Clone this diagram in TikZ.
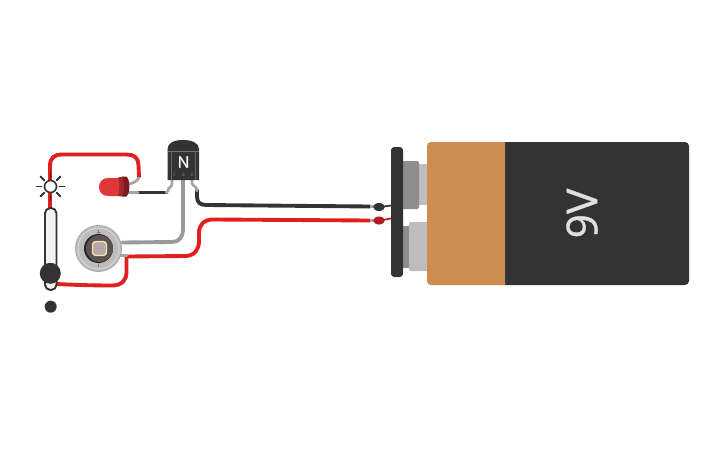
\documentclass[tikz,border=0pt]{standalone}
\usepackage{fontspec}
\setsansfont{Open Sans}
\usetikzlibrary{arrows,shapes,positioning}
\usetikzlibrary{calc}
\definecolor{darkbody}{HTML}{333333}
\definecolor{wirered}{HTML}{E0201F}
\definecolor{plugred}{HTML}{B01C1C}
\definecolor{leadgray}{HTML}{A3A6A6}
\definecolor{wiregray}{HTML}{979B9B}
\definecolor{coppertop}{HTML}{CE8C52}
\definecolor{termdark}{HTML}{8E8E8E}
\definecolor{termlight}{HTML}{BDBDBD}
\tikzset{
  redwire/.style={draw=wirered,line width=2.9pt,line cap=round},
  blackwire/.style={draw=darkbody,line width=2.9pt,line cap=round},
  graywire/.style={draw=wiregray,line width=2.9pt,line cap=round},
  leadwire/.style={draw=leadgray,line width=2pt,line cap=round},
  ray/.style={draw=darkbody,line width=1.4pt,line cap=round},
  pinmark/.style={text=gray,inner sep=0pt,font=\sffamily\fontsize{3.5}{4}\selectfont},
}
\begin{document}
\begin{tikzpicture}[x=0.75pt,y=0.75pt,yscale=-1,xscale=1]
\useasboundingbox (0,0) rectangle (725,453);

%Wire from bulb to LED
\draw [redwire] (50,208) -- (50,166) .. controls (50,158) and (54,154.5) .. (62,154.5) -- (127,154.5) .. controls (134,154.5) and (138.5,158) .. (138.5,165) -- (139,177);
%Wire from sensor to switch
\draw [redwire] (57,284) .. controls (75,285) and (95,285.5) .. (112,285.5) .. controls (122,285.5) and (126.5,280) .. (126.5,272) -- (126.5,256);
%Wire from sensor to battery
\draw [redwire] (127,256.5) -- (186,256) .. controls (195,255.5) and (199,249) .. (199,241) -- (199,233) .. controls (199,225) and (204,219.5) .. (213,219.5) -- (370,220.5);
%Wire from transistor to battery
\draw [blackwire] (197,190) -- (197,197) .. controls (197,202) and (200,205) .. (206,205) -- (370,206.5);
%Wire from transistor to sensor
\draw [graywire] (122,242.5) -- (172,242) .. controls (179,242) and (183,237) .. (183,230) -- (183,180);
%Wire from LED to transistor
\draw [blackwire] (137,192.5) -- (166,192.5);

%Leads of the transistor
\draw [leadwire] (172,179) -- (172,184) .. controls (172,187) and (168,187) .. (168,191) -- (166,192.5);
\draw [leadwire] (192,179) -- (192,183) .. controls (192,186) and (197,186) .. (197,191);
%Leads of the LED
\draw [leadwire] (127,192.5) -- (138,192.5);
\draw [leadwire] (127,184) .. controls (132,184) and (136,182) .. (139,178);

%Shape: Transistor
\draw [fill=darkbody,draw=none] (167.5,180) -- (167.5,149) .. controls (167.5,143) and (174,140) .. (183,140) .. controls (192,140) and (199,143) .. (199,149) -- (199,180) -- cycle;
\draw [draw=black!55,line width=0.5pt] (167.5,151) -- (199,151);
\draw [draw=black!60,line width=0.4pt] (171,151) -- (171,180) (195.5,151) -- (195.5,180);
\node [text=white,font=\sffamily\fontsize{12}{12}\selectfont\addfontfeatures{FakeBold=0.6}] (letterN) at (183.5,162) {N};
\node [pinmark] (pinC) at (174.5,174.5) {C};
\node [pinmark] (pinB) at (183.5,174.5) {B};
\node [pinmark] (pinE) at (192.5,174.5) {E};

%Shape: LED
\draw [fill={rgb, 255:red, 222; green, 56; blue, 56 },draw=none] (122,178) -- (108,178) .. controls (96,178) and (96,196) .. (108,196) -- (122,196) -- cycle;
\draw [fill={rgb, 255:red, 160; green, 40; blue, 44 },draw=none] (118,177.5) -- (123,176.5) .. controls (126,181) and (126,192) .. (123,196.5) -- (118,196) .. controls (120,191) and (120,182) .. (118,177.5) -- cycle;
\draw [fill={rgb, 255:red, 122; green, 28; blue, 28 },draw=none] (122,176.5) -- (126,176.5) .. controls (130.5,178) and (130.5,195) .. (126,196.5) -- (122,196.5) .. controls (125,192) and (125,181) .. (122,176.5) -- cycle;

%Sensor stubs
\draw [leadwire] (119,255.5) -- (127,255.5);
\draw [leadwire] (119,242.5) -- (124,242.5);
%Shape: Sensor
\draw [fill=termlight,draw=leadgray,line width=0.6pt] (98.5,248.5) circle (23);
\draw [draw=gray!25,line width=0.5pt] (98.5,248.5) circle (20.5);
\draw [fill=black!85,draw=none] (98.5,248.5) circle (14.5);
\draw [fill={rgb, 255:red, 92; green, 82; blue, 78 },draw=none] (99.5,248.5) circle (13.5);
\draw [fill={rgb, 255:red, 182; green, 168; blue, 168 },draw={rgb, 255:red, 246; green, 228; blue, 170 },line width=1pt,rounded corners=2.5pt] (92.5,241.5) rectangle (106.5,255.5);
\draw [draw=gray,line width=0.4pt] (96.5,232) -- (100.5,232) (98.5,230) -- (98.5,234);
\draw [draw=gray,line width=0.4pt] (98.5,263) -- (98.5,267);

%Shape: Bulb
\foreach \a in {0,45,...,315} {
  \draw [ray] ($(50.5,186.5)+(\a:9)$) -- ($(50.5,186.5)+(\a:14)$);
}
\draw [fill=white,draw=darkbody,line width=1.2pt] (50.5,186.5) circle (6);

%Shape: Switch
\draw [fill={rgb, 255:red, 242; green, 243; blue, 245 },draw=darkbody,line width=1.4pt,rounded corners=4pt] (45,208) rectangle (56.5,290);
\draw [fill=darkbody,draw=none] (50.3,273.3) circle (10.5);
\draw [fill=darkbody,draw=none] (50.7,306.7) circle (6);

%Plugs at the battery end
\draw [draw=leadgray,line width=2.5pt] (370,206.5) -- (375,206.5);
\draw [draw=leadgray,line width=2.5pt] (370,220.5) -- (375,220.5);
\draw [draw=darkbody,line width=1.3pt] (380,207) -- (391,205.5);
\draw [draw=plugred,line width=1.3pt] (380,220.5) -- (391,218.5);
\draw [fill=darkbody,draw=none] (379,207) ellipse (5.8 and 4);
\draw [fill=plugred,draw=none] (379,220.5) ellipse (5.8 and 4);

%Battery terminals
\draw [fill=termlight,draw=none] (415,164) rectangle (428,205);
\draw [fill=termdark,draw=none,rounded corners=1pt] (400,161) rectangle (419,209);
\draw [fill=termdark,draw=none] (400,226) rectangle (412,268);
\draw [fill=termlight,draw=none,rounded corners=1pt] (409,222) rectangle (428,271);
%Shape: Snap plate
\draw [fill=darkbody,draw=none,rounded corners=2.5pt] (391,147) rectangle (403,277);

%Shape: Battery
\draw [fill=darkbody,draw=none,rounded corners=3pt] (500,142) rectangle (689,285);
\draw [fill=coppertop,draw=none] (505,142) -- (431,142) .. controls (428.5,142) and (427,143.5) .. (427,146) -- (427,281) .. controls (427,283.5) and (428.5,285) .. (431,285) -- (505,285) -- cycle;
\node [rotate=90,text={rgb,255:red,224;green,224;blue,224},font=\sffamily\fontsize{32}{32}\selectfont\addfontfeatures{FakeBold=0.8}] (voltage) at (582,213.5) {9V};
\end{tikzpicture}
\end{document}
